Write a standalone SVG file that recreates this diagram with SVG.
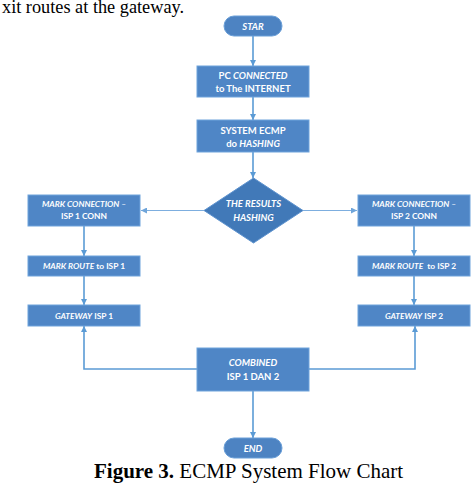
<svg xmlns="http://www.w3.org/2000/svg" width="474" height="483" viewBox="0 0 474 483">
<defs>
<marker id="ah" viewBox="0 0 10 10" refX="10" refY="5" markerWidth="4" markerHeight="4" orient="auto" markerUnits="strokeWidth">
<path d="M0,0 L10,5 L0,10 z" fill="#5B9BD5"/>
</marker>
<marker id="ah2" viewBox="0 0 10 10" refX="10" refY="5" markerWidth="6" markerHeight="6" orient="auto" markerUnits="strokeWidth">
<path d="M0,0 L10,5 L0,10 z" fill="#6FA5DA"/>
</marker>
<style>
.box{fill:#4F86C6;stroke:#6FA3DC;stroke-width:1}
.dia{fill:#4179B8;stroke:#5E93CF;stroke-width:1}
.pill{fill:#4D83C2;stroke:#6A9FD8;stroke-width:1}
.t{font-family:Lato,"Open Sans","Liberation Sans",sans-serif;font-weight:bold;fill:#fff;text-anchor:middle;font-size:9.5px}
.s{font-size:8.4px}
.i{font-style:italic}
.c{fill:none;stroke:#5B9BD5;stroke-width:1.6;marker-end:url(#ah)}
.c2{fill:none;stroke:#7DAEDF;stroke-width:1;marker-end:url(#ah2)}
.serif{font-family:"Liberation Serif","Times New Roman",serif;fill:#000}
</style>
</defs>
<rect width="474" height="483" fill="#fff"/>
<text class="serif" x="2" y="13" font-size="18.3">xit routes at the gateway.</text>

<g id="connectors">
<path class="c" d="M253,36 V66"/>
<path class="c" d="M253,97 V120"/>
<path class="c" d="M253,152 V178"/>
<path class="c2" d="M204,210.5 H141"/>
<path class="c2" d="M303,210.5 H357"/>
<path class="c" d="M84,226 V256"/>
<path class="c" d="M84,276 V305"/>
<path class="c" d="M414,226 V256"/>
<path class="c" d="M414,276 V305"/>
<path class="c" d="M197,369 H84 V326"/>
<path class="c" d="M309,369 H415 V326"/>
<path class="c" d="M253,391 V438"/>
</g>

<g id="star">
<rect class="pill" x="224" y="16" width="58" height="20" rx="10"/>
<text class="t i" x="253" y="29.5" font-size="9.5">STAR</text>
</g>
<g id="pc">
<rect class="box" x="197" y="66" width="112" height="31"/>
<text class="t" x="253" y="79">PC <tspan class="i">CONNECTED</tspan></text>
<text class="t" x="253" y="91.5">to The INTERNET</text>
</g>
<g id="system">
<rect class="box" x="197" y="120" width="112" height="32"/>
<text class="t" x="253" y="134">SYSTEM ECMP</text>
<text class="t" x="253" y="146.5">do <tspan class="i">HASHING</tspan></text>
</g>
<g id="results">
<path class="dia" d="M253.5,178 L303,210.5 L253.5,243 L204,210.5 z"/>
<text class="t i" x="253.5" y="207" font-size="10.5">THE RESULTS</text>
<text class="t i" x="253.5" y="220.5" font-size="10.5">HASHING</text>
</g>
<g id="markconn1">
<rect class="box" x="28" y="195" width="112" height="31"/>
<text class="t s" x="84" y="207"><tspan class="i">MARK CONNECTION –</tspan></text>
<text class="t s" x="84" y="218.5">ISP 1 CONN</text>
</g>
<g id="markroute1">
<rect class="box" x="28" y="256" width="112" height="20"/>
<text class="t s" x="84" y="268.5"><tspan class="i">MARK ROUTE</tspan> to ISP 1</text>
</g>
<g id="gateway1">
<rect class="box" x="28" y="305" width="112" height="21"/>
<text class="t s" x="84" y="318.5"><tspan class="i">GATEWAY</tspan> ISP 1</text>
</g>
<g id="markconn2">
<rect class="box" x="358" y="195" width="112" height="31"/>
<text class="t s" x="414" y="207"><tspan class="i">MARK CONNECTION –</tspan></text>
<text class="t s" x="414" y="218.5">ISP 2 CONN</text>
</g>
<g id="markroute2">
<rect class="box" x="358" y="256" width="112" height="20"/>
<text class="t s" x="414" y="268.5" xml:space="preserve"><tspan class="i">MARK ROUTE</tspan>  to ISP 2</text>
</g>
<g id="gateway2">
<rect class="box" x="358" y="305" width="112" height="21"/>
<text class="t s" x="414" y="318.5"><tspan class="i">GATEWAY</tspan> ISP 2</text>
</g>
<g id="combined">
<rect class="box" x="197" y="348" width="112" height="43"/>
<text class="t i" x="253" y="366" font-size="10.5">COMBINED</text>
<text class="t" x="253" y="379.5" font-size="10.5">ISP 1 DAN 2</text>
</g>
<g id="end">
<rect class="pill" x="224" y="438" width="58" height="20" rx="10"/>
<text class="t i" x="253" y="451.5" font-size="9.5">END</text>
</g>
<text class="serif" x="94" y="478" font-size="21"><tspan font-weight="bold">Figure 3.</tspan> ECMP System Flow Chart</text>
</svg>
